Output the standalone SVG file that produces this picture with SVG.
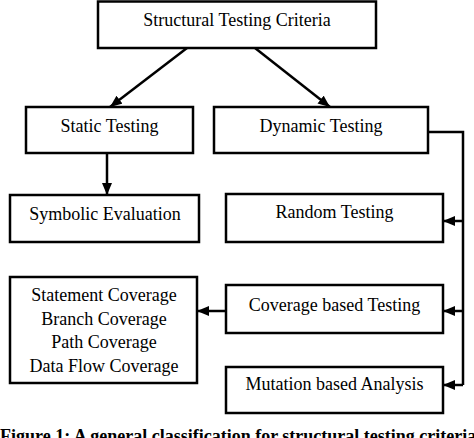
<svg xmlns="http://www.w3.org/2000/svg" width="474" height="438" viewBox="0 0 474 438">
<style>
.box{fill:#fff;stroke:#000;stroke-width:2.5}
.t{font-family:"Liberation Serif","Times New Roman",serif;font-size:18px;fill:#000;text-anchor:middle}
.cap{font-family:"Liberation Serif","Times New Roman",serif;font-size:18px;font-weight:bold;fill:#000}
.ln{fill:none;stroke:#000;stroke-width:2.5}
</style>
<defs>
<marker id="ah" viewBox="0 0 12 10" refX="12" refY="5" markerWidth="12" markerHeight="10" markerUnits="userSpaceOnUse" orient="auto">
<path d="M0,0 L12,5 L0,10 Z" fill="#000"/>
</marker>
</defs>
<rect width="474" height="438" fill="#fff"/>
<g id="connectors">
<line class="ln" x1="187" y1="48" x2="110" y2="107" marker-end="url(#ah)"/>
<line class="ln" x1="255" y1="48" x2="330" y2="107" marker-end="url(#ah)"/>
<line class="ln" x1="107" y1="153" x2="107" y2="195" marker-end="url(#ah)"/>
<polyline class="ln" points="428,132 463,132 463,385"/>
<line class="ln" x1="463" y1="221" x2="443" y2="221" marker-end="url(#ah)"/>
<line class="ln" x1="463" y1="311" x2="443" y2="311" marker-end="url(#ah)"/>
<line class="ln" x1="463" y1="385" x2="443" y2="385" marker-end="url(#ah)"/>
<line class="ln" x1="226" y1="311" x2="197" y2="311" marker-end="url(#ah)"/>
</g>
<g id="n-root"><rect class="box" x="98" y="1.5" width="278" height="46.5"/><text class="t" x="237" y="26">Structural Testing Criteria</text></g>
<g id="n-static"><rect class="box" x="26" y="107" width="167" height="46"/><text class="t" x="109.5" y="132">Static Testing</text></g>
<g id="n-dynamic"><rect class="box" x="214" y="107" width="214" height="46"/><text class="t" x="321" y="132">Dynamic Testing</text></g>
<g id="n-symbolic"><rect class="box" x="10" y="195" width="189" height="47"/><text class="t" x="105" y="220">Symbolic Evaluation</text></g>
<g id="n-random"><rect class="box" x="226" y="194" width="217" height="48"/><text class="t" x="334.5" y="218">Random Testing</text></g>
<g id="n-coverage-list"><rect class="box" x="10" y="277" width="187" height="106"/>
<text class="t" x="104" y="301">Statement Coverage</text>
<text class="t" x="104" y="324.5">Branch Coverage</text>
<text class="t" x="104" y="348">Path Coverage</text>
<text class="t" x="104" y="372">Data Flow Coverage</text></g>
<g id="n-coverage"><rect class="box" x="226" y="285" width="217" height="48"/><text class="t" x="334.5" y="311">Coverage based Testing</text></g>
<g id="n-mutation"><rect class="box" x="226" y="367" width="217" height="46"/><text class="t" x="334.5" y="390">Mutation based Analysis</text></g>
<text class="cap" x="0" y="442">Figure 1: A general classification for structural testing criteria</text>
</svg>
